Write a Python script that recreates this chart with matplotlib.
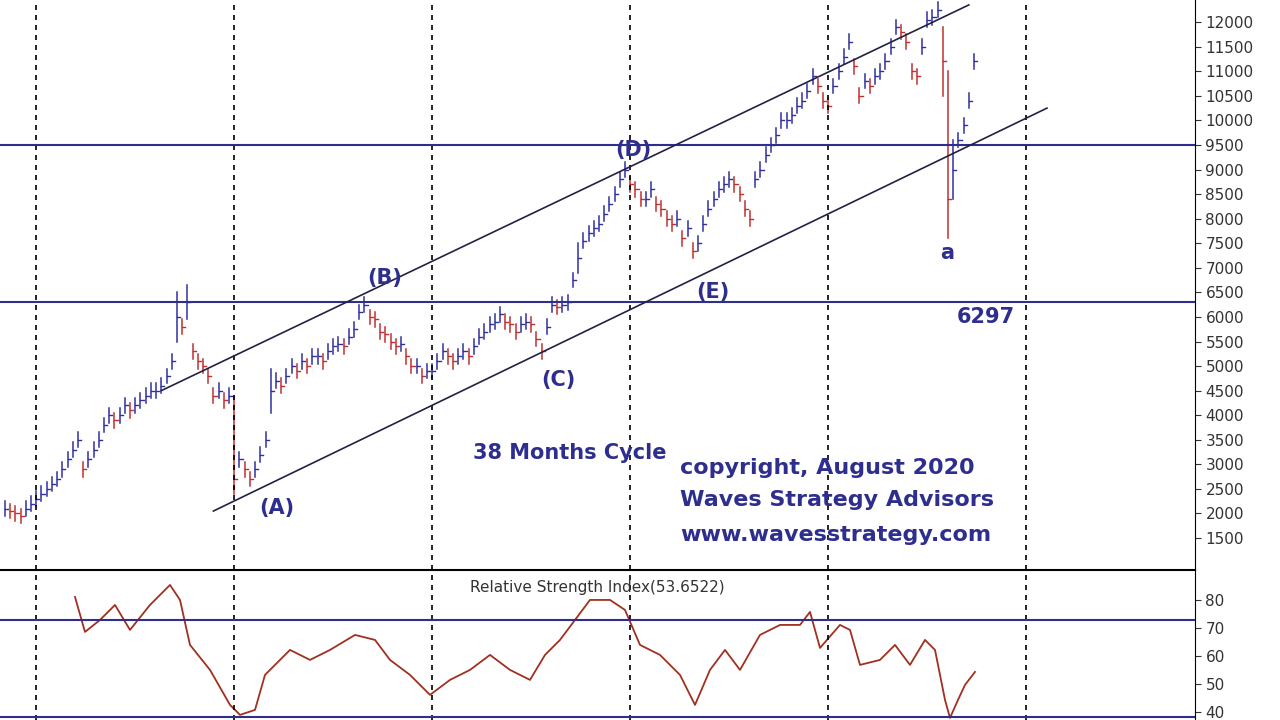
import matplotlib
matplotlib.use("Agg")
import matplotlib.pyplot as plt

close = [2100,2050,2000,1950,2100,2200,2300,2400,2500,2600,
         2700,2900,3100,3300,3500,2900,3100,3300,3500,3800,
         4000,3900,4000,4200,4100,4200,4300,4400,4500,4500,
         4600,4800,5100,6000,5800,6300,5300,5100,5000,4800,
         4400,4500,4300,4400,2700,3100,2900,2700,2900,3200,
         3500,4500,4700,4600,4800,5000,4900,5100,5000,5200,
         5200,5100,5300,5400,5450,5400,5600,5750,6100,6250,
         6000,5950,5700,5650,5500,5400,5450,5200,5000,5000,
         4800,4900,4900,5100,5300,5200,5100,5200,5300,5200,
         5400,5600,5700,5850,5900,6050,5900,5850,5700,5850,
         5900,5850,5550,5300,5800,6250,6200,6250,6300,6750,
         7200,7550,7700,7800,7900,8100,8300,8500,8800,9000,
         8700,8600,8400,8400,8600,8300,8200,8000,7900,8000,
         7600,7800,7350,7500,7900,8200,8400,8600,8700,8800,
         8700,8500,8200,8000,8800,9000,9300,9500,9700,10000,
         10000,10100,10300,10400,10600,10900,10700,10400,10300,10700,
         11000,11300,11600,11100,10500,10800,10700,10900,11000,11200,
         11500,11900,11800,11600,11000,10900,11500,12050,12100,12250,
         11200,8400,9000,9600,9900,10400,11200]
spread = [300] * len(close)
spread_override = {33: 1000, 35: 700, 44: 1600, 51: 900, 110: 600, 181: 3400, 182: 1200, 180: 1400}

rsi_x = [75,85,100,115,130,150,170,180,190,210,230,240,255,265,290,310,330,355,375,390,410,430,450,470,490,510,530,545,560,575,590,610,625,640,660,680,695,710,725,740,760,780,800,810,820,840,850,860,880,895,910,925,935,945,950,958,965,975]
rsi_y = [597,632,620,605,630,605,585,600,645,670,705,715,710,675,650,660,650,635,640,660,675,695,680,670,655,670,680,655,640,620,600,600,610,645,655,675,705,670,650,670,635,625,625,612,648,625,630,665,660,645,665,640,650,700,718,700,685,672]

NAVY = "#2e2e8f"
fig = plt.figure(figsize=(12.8, 7.2), dpi=100)
def m_of(px): return (px - 5) / 5.21
xl = (m_of(0), m_of(1195))

ax = fig.add_axes([0, 150/720, 1195/1280, 570/720])
ax.set_xlim(*xl)
ax.set_ylim(850, 12450)
prev = close[0]
for m, c in enumerate(close):
    s = spread_override.get(m, spread[m])
    col = "#c03030" if c < prev else "#3030a0"
    hi, lo = c + s*0.5, c - s*0.5
    if m == 181: hi, lo = 11000, 7600
    if m == 44: hi, lo = 4400, 2400
    ax.plot([m, m], [lo, hi], color=col, lw=1.1)
    ax.plot([m, m+0.6], [c, c], color=col, lw=1.0)
    prev = c
for d in [6, 44, 82, 120, 158, 196]:
    ax.axvline(d, color="black", ls=(0, (3, 3)), lw=1.2)
for h in [9500, 6297]:
    ax.axhline(h, color=NAVY, lw=1.5)
ax.plot([30, 185], [4500, 12350], color="#222244", lw=1.2)
ax.plot([40, 200], [2050, 10250], color="#222244", lw=1.2)
ax.yaxis.tick_right()
ax.set_yticks(range(1500, 12001, 500))
ax.tick_params(axis="y", labelsize=11, colors="#333333", length=4)
ax.set_xticks([])
for sp in ["top", "left"]:
    ax.spines[sp].set_visible(False)
tk = dict(color=NAVY, fontsize=15, fontweight="bold", ha="center", va="center")
for txt, px, py in [("(A)", 277, 508), ("(B)", 385, 278), ("(C)", 558, 380), ("(D)", 633, 150),
                    ("(E)", 713, 292), ("a", 947, 253), ("6297", 986, 317)]:
    ax.text(m_of(px), 12000 - (py - 22) * 20.33, txt, **tk)
ax.text(m_of(570), 12000 - (453-22)*20.33, "38 Months Cycle", color=NAVY, fontsize=15, fontweight="bold", ha="center", va="center")
for txt, py in [("copyright, August 2020", 468), ("Waves Strategy Advisors", 500), ("www.wavesstrategy.com", 535)]:
    ax.text(m_of(680), 12000 - (py-22)*20.33, txt, color=NAVY, fontsize=16, fontweight="bold", ha="left", va="center")

ax2 = fig.add_axes([0, 0, 1195/1280, 150/720])
ax2.set_xlim(*xl)
ax2.set_ylim(37.1, 90.7)
ax2.plot([m_of(x) for x in rsi_x], [80 - (y - 600) / 2.8 for y in rsi_y], color="#a03020", lw=1.3)
for d in [6, 44, 82, 120, 158, 196]:
    ax2.axvline(d, color="black", ls=(0, (3, 3)), lw=1.2)
for h in [73, 38]:
    ax2.axhline(h, color=NAVY, lw=1.5)
ax2.yaxis.tick_right()
ax2.set_yticks([40, 50, 60, 70, 80])
ax2.tick_params(axis="y", labelsize=11, colors="#333333", length=4)
ax2.set_xticks([])
for sp in ["bottom", "left"]:
    ax2.spines[sp].set_visible(False)
ax2.spines["top"].set_linewidth(1.5)
ax2.text(m_of(597), 84.5, "Relative Strength Index(53.6522)", fontsize=11, color="#333333", ha="center", va="center")
fig.savefig("out.png", dpi=100)
